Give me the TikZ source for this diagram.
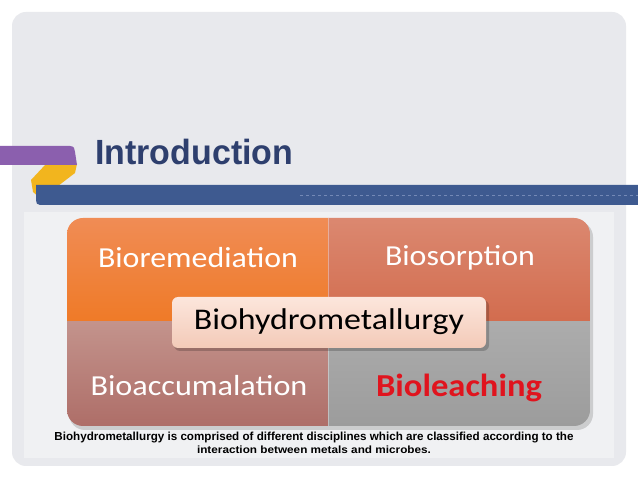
\documentclass[tikz,border=0pt]{standalone}
\usepackage{fontspec}
\setmainfont{Liberation Sans}
\newfontfamily\calib{Carlito}
\definecolor{panelgray}{HTML}{E8E9ED}
\definecolor{innergray}{HTML}{F0F1F3}
\definecolor{navy}{HTML}{2E3F6E}
\definecolor{barblue}{HTML}{3E5A90}
\definecolor{dashblue}{HTML}{7489B6}
\definecolor{purp}{HTML}{8B5FAE}
\definecolor{ylw}{HTML}{F2B51E}
\definecolor{orA}{HTML}{F08C55}
\definecolor{orB}{HTML}{EF7A27}
\definecolor{saA}{HTML}{DB8870}
\definecolor{saB}{HTML}{D26C4E}
\definecolor{roA}{HTML}{C3938C}
\definecolor{roB}{HTML}{AE6E68}
\definecolor{grA}{HTML}{ACACAC}
\definecolor{grB}{HTML}{9C9C9C}
\definecolor{pchA}{HTML}{FCE6DC}
\definecolor{pchB}{HTML}{F3CAB8}
\definecolor{redtxt}{HTML}{E0141E}
\tikzset{
  qtext/.style={text=white, font=\calib\fontsize{29}{32}\selectfont, inner sep=0pt},
  captext/.style={font=\bfseries\fontsize{10.5}{12}\selectfont, inner sep=0pt, text=black},
}
\begin{document}
\begin{tikzpicture}[x=1pt,y=-1pt]
\useasboundingbox (0,0) rectangle (638,478);
\fill[white] (0,0) rectangle (638,478);
\fill[panelgray, rounded corners=14pt] (12,12) rectangle (626,466);
\fill[innergray] (24,212) rectangle (614,458);
% ribbon
\fill[ylw] (46,164) -- (77,164) -- (75,173) -- (58,186) -- (40,198) -- (33,192) -- (31,180) -- cycle;
\fill[purp] (0,146) -- (70,146) .. controls (74,146) and (75,149) .. (75,152) -- (77,165) -- (0,165) -- cycle;
\fill[barblue] (36,185) -- (638,185) -- (638,205) -- (40,205) .. controls (37,205) and (36,203) .. (36,200) -- cycle;
\draw[dashblue, dashed, line width=0.5pt] (300,195) -- (638,195);
\node[anchor=west, text=navy, inner sep=0pt, font=\bfseries\fontsize{35}{40}\selectfont] (title) at (95,152) {\scalebox{0.97}[1]{Introduction}};
% main box
\fill[black, opacity=0.15, rounded corners=16pt] (69,221) rectangle (593,430);
\begin{scope}
\clip[rounded corners=16pt] (67,218) rectangle (590,426);
\shade[top color=orA, bottom color=orB] (67,218) rectangle (328,322);
\shade[top color=saA, bottom color=saB] (328,218) rectangle (590,322);
\shade[top color=roA, bottom color=roB] (67,322) rectangle (328,426);
\shade[top color=grA, bottom color=grB] (328,322) rectangle (590,426);
\end{scope}
\draw[white, opacity=0.35, line width=0.6pt] (328,218) -- (328,426);
\node[qtext] (bioremediation) at (198,258) {\scalebox{1.1}[1]{Bioremediation}};
\node[qtext] (biosorption) at (460,258) {\scalebox{1.1}[1]{Biosorption}};
\node[qtext] (bioaccumalation) at (199,386) {\scalebox{1.11}[1]{Bioaccumalation}};
\node[qtext, text=redtxt, font=\calib\bfseries\fontsize{32}{34}\selectfont] (bioleaching) at (459,388) {\scalebox{1.08}[1]{Bioleaching}};
% center box
\fill[black, opacity=0.2, rounded corners=6pt] (174,300) rectangle (489,351);
\shade[top color=pchA, bottom color=pchB, rounded corners=6pt] (172,297) rectangle (486,348);
\node[inner sep=0pt, font=\calib\fontsize{30}{32}\selectfont, text=black] (center) at (329,322) {\scalebox{1.13}[1]{Biohydrometallurgy}};
% caption
\node[captext] (caption1) at (314,438) {\resizebox{519pt}{!}{Biohydrometallurgy is comprised of different disciplines which are classified according to the}};
\node[captext] (caption2) at (314,450) {\scalebox{1.12}[1]{interaction between metals and microbes.}};
\end{tikzpicture}
\end{document}
